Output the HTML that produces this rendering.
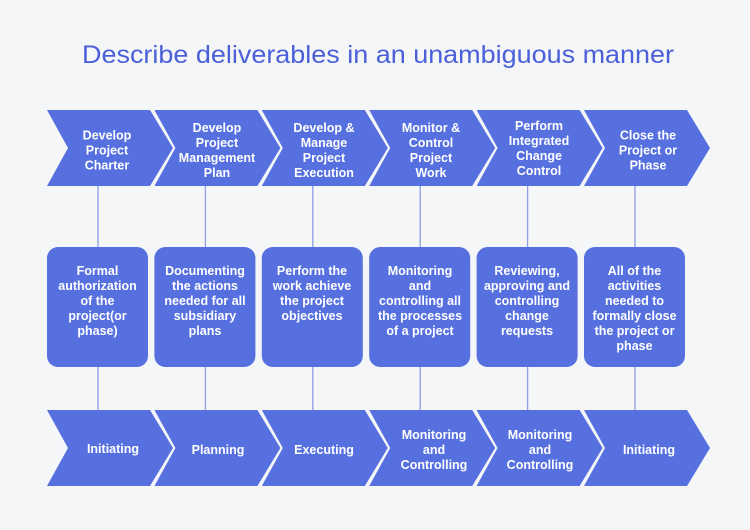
<!DOCTYPE html>
<html><head><meta charset="utf-8"><style>
html,body{margin:0;padding:0;background:#f5f6f8;}
svg{display:block;font-family:"Liberation Sans",sans-serif;}
.t{fill:#fff;font-weight:bold;font-size:12.5px;text-anchor:middle;}
</style></head><body>
<svg width="750" height="530" viewBox="0 0 750 530" xmlns="http://www.w3.org/2000/svg">
<rect width="750" height="530" fill="#f5f6f8"/>
<text x="378" y="63" font-size="25" fill="#4a5fd8" text-anchor="middle" textLength="592" lengthAdjust="spacingAndGlyphs">Describe deliverables in an unambiguous manner</text>
<g stroke="#8e9de6" stroke-width="1.3">
<line x1="98" y1="186" x2="98" y2="410"/><line x1="205.4" y1="186" x2="205.4" y2="410"/><line x1="312.8" y1="186" x2="312.8" y2="410"/><line x1="420.2" y1="186" x2="420.2" y2="410"/><line x1="527.6" y1="186" x2="527.6" y2="410"/><line x1="635" y1="186" x2="635" y2="410"/>
</g>
<g fill="#5670e0">
<polygon points="47,110 150,110 173,148 150,186 47,186 68,148"/>
<polygon points="154.4,110 257.4,110 280.4,148 257.4,186 154.4,186 175.4,148"/>
<polygon points="261.8,110 364.8,110 387.8,148 364.8,186 261.8,186 282.8,148"/>
<polygon points="369.2,110 472.2,110 495.2,148 472.2,186 369.2,186 390.2,148"/>
<polygon points="476.6,110 579.6,110 602.6,148 579.6,186 476.6,186 497.6,148"/>
<polygon points="584,110 687,110 710,148 687,186 584,186 605,148"/>
<polygon points="47,410 150,410 173,448 150,486 47,486 68,448"/>
<polygon points="154.4,410 257.4,410 280.4,448 257.4,486 154.4,486 175.4,448"/>
<polygon points="261.8,410 364.8,410 387.8,448 364.8,486 261.8,486 282.8,448"/>
<polygon points="369.2,410 472.2,410 495.2,448 472.2,486 369.2,486 390.2,448"/>
<polygon points="476.6,410 579.6,410 602.6,448 579.6,486 476.6,486 497.6,448"/>
<polygon points="584,410 687,410 710,448 687,486 584,486 605,448"/>
<rect x="47" y="247" width="101" height="120" rx="11"/>
<rect x="154.4" y="247" width="101" height="120" rx="11"/>
<rect x="261.8" y="247" width="101" height="120" rx="11"/>
<rect x="369.2" y="247" width="101" height="120" rx="11"/>
<rect x="476.6" y="247" width="101" height="120" rx="11"/>
<rect x="584" y="247" width="101" height="120" rx="11"/>
</g>
<g class="t">
<text x="107" y="139.5">Develop</text><text x="107" y="154.5">Project</text><text x="107" y="169.5">Charter</text>
<text x="217" y="132">Develop</text><text x="217" y="147">Project</text><text x="217" y="162">Management</text><text x="217" y="177">Plan</text>
<text x="324" y="132">Develop &amp;</text><text x="324" y="147">Manage</text><text x="324" y="162">Project</text><text x="324" y="177">Execution</text>
<text x="431" y="132">Monitor &amp;</text><text x="431" y="147">Control</text><text x="431" y="162">Project</text><text x="431" y="177">Work</text>
<text x="539" y="130">Perform</text><text x="539" y="145">Integrated</text><text x="539" y="160">Change</text><text x="539" y="175">Control</text>
<text x="648" y="139.5">Close the</text><text x="648" y="154.5">Project or</text><text x="648" y="169.5">Phase</text>

<text x="97.5" y="275">Formal</text><text x="97.5" y="290">authorization</text><text x="97.5" y="305">of the</text><text x="97.5" y="320">project(or</text><text x="97.5" y="335">phase)</text>
<text x="205" y="275">Documenting</text><text x="205" y="290">the actions</text><text x="205" y="305">needed for all</text><text x="205" y="320">subsidiary</text><text x="205" y="335">plans</text>
<text x="312" y="275">Perform the</text><text x="312" y="290">work achieve</text><text x="312" y="305">the project</text><text x="312" y="320">objectives</text>
<text x="420" y="275">Monitoring</text><text x="420" y="290">and</text><text x="420" y="305">controlling all</text><text x="420" y="320">the processes</text><text x="420" y="335">of a project</text>
<text x="527" y="275">Reviewing,</text><text x="527" y="290">approving and</text><text x="527" y="305">controlling</text><text x="527" y="320">change</text><text x="527" y="335">requests</text>
<text x="634.5" y="275">All of the</text><text x="634.5" y="290">activities</text><text x="634.5" y="305">needed to</text><text x="634.5" y="320">formally close</text><text x="634.5" y="335">the project or</text><text x="634.5" y="350">phase</text>

<text x="113" y="453">Initiating</text>
<text x="218" y="454">Planning</text>
<text x="324" y="454">Executing</text>
<text x="434" y="439">Monitoring</text><text x="434" y="454">and</text><text x="434" y="469">Controlling</text>
<text x="540" y="439">Monitoring</text><text x="540" y="454">and</text><text x="540" y="469">Controlling</text>
<text x="649" y="454">Initiating</text>
</g>
</svg>
</body></html>
